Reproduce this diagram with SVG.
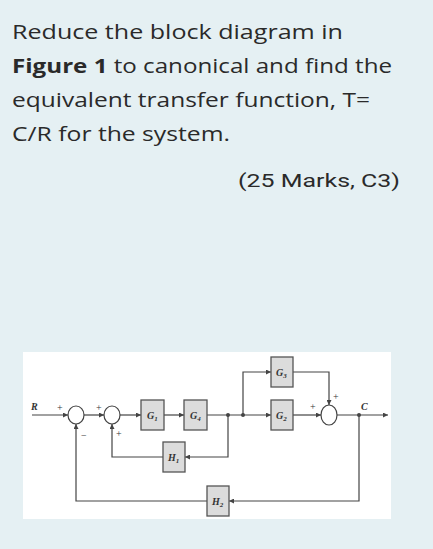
<svg xmlns="http://www.w3.org/2000/svg" width="433" height="549" viewBox="0 0 433 549">
<defs>
<style>
.q{font-family:"Open Sans","Noto Sans",sans-serif;font-size:19.5px;fill:#2a2a2a}
.m{font-family:Roboto,"Open Sans",sans-serif;font-size:19px;fill:#2a2a2a}
.box{fill:#dcdcdc;stroke:#555;stroke-width:1.3}
.j{fill:#fff;stroke:#444;stroke-width:1.2}
.w{fill:none;stroke:#444;stroke-width:1.2}
.lb{font-family:"Liberation Serif",serif;font-style:italic;font-weight:bold;font-size:10px;fill:#333}
.sg{font-family:"Liberation Serif",serif;font-size:10px;fill:#333}
</style>
<marker id="a" viewBox="0 0 6 6" refX="6" refY="3" markerWidth="5" markerHeight="5" markerUnits="userSpaceOnUse" orient="auto">
<path d="M0,0 L6,3 L0,6 Z" fill="#444"/>
</marker>
</defs>
<rect width="433" height="549" fill="#e5f0f3"/>
<text class="q" x="12" y="39" textLength="331" lengthAdjust="spacingAndGlyphs">Reduce the block diagram in</text>
<text class="q" x="12" y="73" textLength="380" lengthAdjust="spacingAndGlyphs"><tspan font-weight="bold">Figure 1</tspan> to canonical and find the</text>
<text class="q" x="12" y="107" textLength="358" lengthAdjust="spacingAndGlyphs">equivalent transfer function, T=</text>
<text class="q" x="12" y="141" textLength="218" lengthAdjust="spacingAndGlyphs">C/R for the system.</text>
<text class="m" x="238" y="187" textLength="162" lengthAdjust="spacingAndGlyphs">(25 Marks, C3)</text>
<rect x="23" y="352" width="368" height="167" fill="#fff"/>
<g id="connectors">
<path class="w" d="M32,415 H68" marker-end="url(#a)"/>
<path class="w" d="M84,415 H104" marker-end="url(#a)"/>
<path class="w" d="M120,415 H141" marker-end="url(#a)"/>
<path class="w" d="M164,415 H184" marker-end="url(#a)"/>
<path class="w" d="M207,415 H271" marker-end="url(#a)"/>
<path class="w" d="M243,415 V372 H271" marker-end="url(#a)"/>
<path class="w" d="M293,372 H329 V405" marker-end="url(#a)"/>
<path class="w" d="M293,415 H321" marker-end="url(#a)"/>
<path class="w" d="M337,415 H388" marker-end="url(#a)"/>
<path class="w" d="M359,415 V501 H229" marker-end="url(#a)"/>
<path class="w" d="M207,501 H76 V424" marker-end="url(#a)"/>
<path class="w" d="M228,415 V457 H185" marker-end="url(#a)"/>
<path class="w" d="M163,457 H112 V424" marker-end="url(#a)"/>
<circle cx="228" cy="415" r="2" fill="#444"/>
<circle cx="243" cy="415" r="2" fill="#444"/>
<circle cx="359" cy="415" r="2" fill="#444"/>
</g>
<g id="R"><text class="lb" x="31" y="410">R</text></g>
<g id="sum1"><ellipse class="j" cx="76" cy="415" rx="8" ry="9"/><text class="sg" x="57" y="411">+</text><text class="sg" x="81" y="439">−</text></g>
<g id="sum2"><ellipse class="j" cx="112" cy="415" rx="8" ry="9"/><text class="sg" x="96" y="411">+</text><text class="sg" x="116" y="437">+</text></g>
<g id="G1"><rect class="box" x="141" y="400" width="23" height="30"/><text class="lb" x="147" y="419">G<tspan font-size="7" dy="2">1</tspan></text></g>
<g id="G4"><rect class="box" x="184" y="400" width="23" height="30"/><text class="lb" x="190" y="419">G<tspan font-size="7" dy="2">4</tspan></text></g>
<g id="G3"><rect class="box" x="271" y="357" width="22" height="30"/><text class="lb" x="276" y="376">G<tspan font-size="7" dy="2">3</tspan></text></g>
<g id="G2"><rect class="box" x="271" y="400" width="22" height="30"/><text class="lb" x="276" y="419">G<tspan font-size="7" dy="2">2</tspan></text></g>
<g id="sum3"><ellipse class="j" cx="329" cy="415" rx="8" ry="10"/><text class="sg" x="333" y="400">+</text><text class="sg" x="310" y="410">+</text></g>
<g id="C"><text class="lb" x="361" y="410">C</text></g>
<g id="H1"><rect class="box" x="163" y="442" width="22" height="30"/><text class="lb" x="168" y="461">H<tspan font-size="7" dy="2">1</tspan></text></g>
<g id="H2"><rect class="box" x="207" y="486" width="22" height="30"/><text class="lb" x="212" y="505">H<tspan font-size="7" dy="2">2</tspan></text></g>
</svg>
